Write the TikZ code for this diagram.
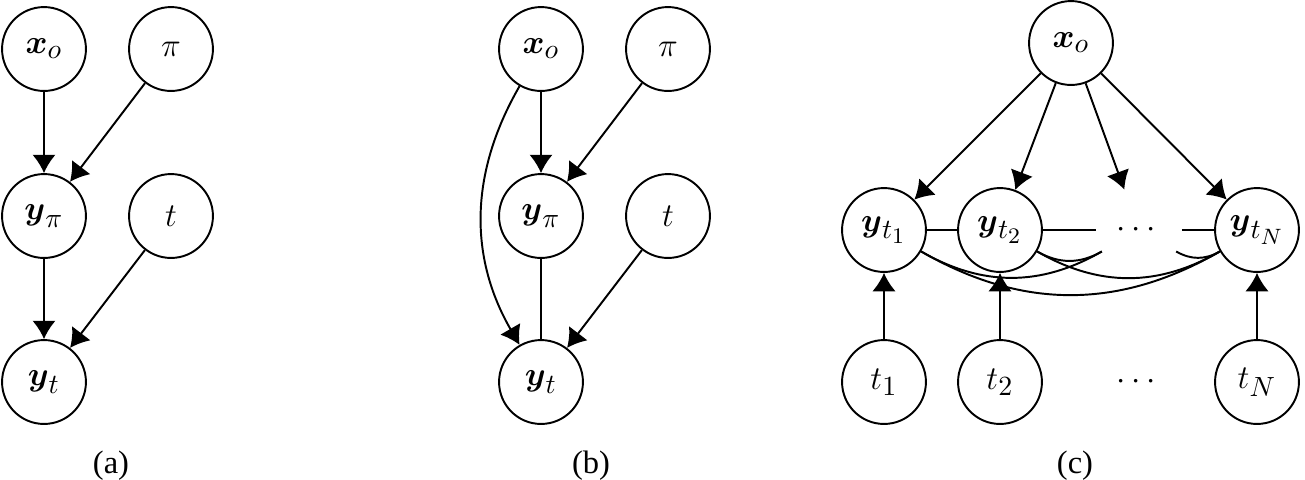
\documentclass[tikz,border=0pt]{standalone}
\usepackage{amsmath}
\usepackage[no-math]{fontspec}
\setmainfont{Liberation Serif}
\usepackage{tikz}
\usetikzlibrary{arrows.meta}
\DeclareMathSizes{12.5}{12.5}{10}{8}

\begin{document}
\begin{tikzpicture}[x=0.36pt, y=-0.36pt, line width=0.7pt, >={Latex[length=6.6pt,width=8.4pt]},
		var/.style={circle, draw, minimum size=30.2pt, inner sep=0pt, font=\fontsize{12.5}{15}\selectfont},
		hid/.style={circle, minimum size=30.2pt, inner sep=0pt, font=\fontsize{12.5}{15}\selectfont},
		subcap/.style={anchor=base, font=\fontsize{11.7}{14}\selectfont}]
		\useasboundingbox (0, 0) rectangle (1305, 479);
		\begin{scope}
			\node[var] (ax) at (44, 49) {$\boldsymbol{x}_o$};
			\node[var] (api) at (171, 49) {$\pi$};
			\node[var] (aypi) at (44, 216) {$\boldsymbol{y}_\pi$};
			\node[var] (at) at (171, 216) {$t$};
			\node[var] (ayt) at (44, 382) {$\boldsymbol{y}_t$};
			\node[subcap] (acap) at (111, 473) {(a)};
			\draw[->] (ax) -- (aypi);
			\draw[->] (api) -- (aypi);
			\draw[->] (aypi) -- (ayt);
			\draw[->] (at) -- (ayt);
		\end{scope}
		\begin{scope}
			\node[var] (bx) at (541, 49) {$\boldsymbol{x}_o$};
			\node[var] (bpi) at (668, 49) {$\pi$};
			\node[var] (bypi) at (541, 216) {$\boldsymbol{y}_\pi$};
			\node[var] (bt) at (668, 216) {$t$};
			\node[var] (byt) at (541, 382) {$\boldsymbol{y}_t$};
			\node[subcap] (bcap) at (591, 473) {(b)};
			\draw[->] (bx) -- (bypi);
			\draw[->] (bpi) -- (bypi);
			\draw (bypi) -- (byt);
			\draw[->] (bt) -- (byt);
			\draw[->] (bx) to[bend right=30] (byt);
		\end{scope}
		\begin{scope}
			\node[var] (cx) at (1071, 43) {$\boldsymbol{x}_o$};
			\node[var] (cy1) at (884, 230) {$\boldsymbol{y}_{t_1}$};
			\node[var] (cy2) at (1000, 230) {$\boldsymbol{y}_{t_2}$};
			\node[hid] (cyd) at (1139, 230) {$\cdots$};
			\node[var] (cyN) at (1257, 230) {$\boldsymbol{y}_{t_N}$};
			\node[var] (ct1) at (884, 382) {$t_1$};
			\node[var] (ct2) at (1000, 382) {$t_2$};
			\node[hid] (ctd) at (1139, 382) {$\cdots$};
			\node[var] (ctN) at (1257, 382) {$t_N$};
			\node[subcap] (ccap) at (1075, 473) {(c)};
			\foreach \n in {cy1, cy2, cyd, cyN}
				\draw[->] (cx) -- (\n);
			\foreach \n in {1, 2, N}
				\draw[->] (ct\n) -- (cy\n);
			\draw (cy1) -- (cy2) -- (cyd) -- (cyN);
			\foreach \a/\b in {cy1/cyd, cy1/cyN, cy2/cyd, cy2/cyN, cyd/cyN}
				\draw (\a) to[bend right=30] (\b);
		\end{scope}
\end{tikzpicture}
\end{document}
